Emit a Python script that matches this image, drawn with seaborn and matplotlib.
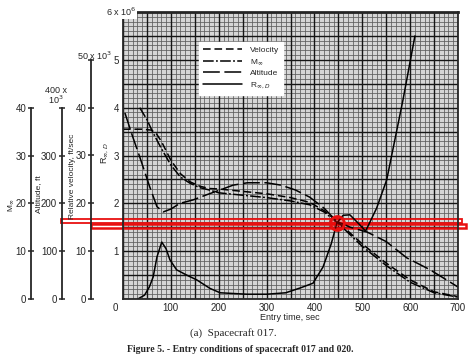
import numpy as np
import pandas as pd
import matplotlib
matplotlib.use("Agg")
import matplotlib.pyplot as plt
import seaborn as sns
from matplotlib.patches import Rectangle

# entry conditions of spacecraft 017
vel_time = [0, 20, 40, 60, 70, 80, 90, 100, 120, 140, 160, 180, 200, 250, 300, 350, 390, 420,
            450, 500, 550, 600, 650, 700]
vel_fps = [35500, 35500, 35500, 35300, 34500, 33000, 31000, 29000, 26200, 24500, 23600, 23100,
           23000, 22500, 22000, 21200, 20200, 18500, 16000, 11500, 7500, 4000, 1500, 500]

mach_time = [35, 50, 63, 80, 100, 120, 140, 160, 180, 200, 250, 300, 350, 390, 420, 450, 500,
             550, 600, 650, 700]
mach = [40.0, 37.5, 34.7, 31.5, 28.0, 25.5, 24.2, 23.3, 22.8, 22.2, 21.7, 21.2, 20.5, 19.7,
        18.2, 15.8, 11.0, 7.0, 3.5, 1.3, 0.4]

alt_time = [4, 20, 35, 56, 71, 84, 100, 119, 146, 175, 203, 230, 260, 300, 330, 360, 390, 420,
            447, 475, 510, 550, 593, 640, 676, 700]
alt_ft = [389000, 340000, 297000, 234000, 193000, 182000, 188000, 200000, 207000, 218000,
          228000, 238000, 243000, 243000, 238000, 228000, 213000, 190000, 162000, 150000,
          140000, 120000, 86000, 62000, 40000, 25000]

re_time = [31, 45, 55, 63, 71, 81, 90, 98, 112, 133, 154, 182, 203, 259, 300, 340, 370, 397,
           418, 435, 447, 460, 474, 490, 507, 530, 551, 585, 610]
re_d = [0.0, 0.08, 0.25, 0.46, 0.88, 1.19, 1.05, 0.82, 0.61, 0.5, 0.4, 0.22, 0.13, 0.1, 0.1,
        0.13, 0.23, 0.33, 0.67, 1.15, 1.59, 1.75, 1.76, 1.6, 1.42, 1.9, 2.49, 4.16, 5.5]  # x 10^6

sns.set_style("ticks")
plt.rcParams['font.family'] = ['Liberation Sans', 'DejaVu Sans']
plt.rcParams['font.size'] = 6.5

fig = plt.figure(figsize=(4.74, 3.61), dpi=100)
B, H = 1 - 299 / 361, 287 / 361
ax = fig.add_axes([123 / 474, B, 335 / 474, H])
ax.set_facecolor("#d6d6d6")

# graph paper: fine lines every 10 s / 0.1, heavy ones every 50 s / 0.5
fine_x = np.arange(0, 701, 10)
fine_y = np.arange(0, 6.01, 0.1)
ax.vlines(fine_x, 0, 6, color="#5c5c5c", linewidth=0.55, zorder=0.6)
ax.hlines(fine_y, 0, 700, color="#5c5c5c", linewidth=0.55, zorder=0.6)
ax.vlines(fine_x[::5], 0, 6, color="#151515", linewidth=1.0, zorder=0.7)
ax.hlines(fine_y[::5], 0, 700, color="#151515", linewidth=1.0, zorder=0.7)

# everything is drawn on the R scale (0-6): M/10, alt/1e5, vel/1e4
vel = pd.DataFrame({"t": vel_time, "y": np.array(vel_fps) / 1e4})
mac = pd.DataFrame({"t": mach_time, "y": np.array(mach) / 10})
alt = pd.DataFrame({"t": alt_time, "y": np.array(alt_ft) / 1e5})
rey = pd.DataFrame({"t": re_time, "y": re_d})

kw = dict(color="black", linewidth=1.1, ax=ax)
sns.lineplot(data=vel, x="t", y="y", label="Velocity", **kw)
sns.lineplot(data=mac, x="t", y="y", label=r"M$_\infty$", **kw)
sns.lineplot(data=alt, x="t", y="y", label="Altitude", **kw)
sns.lineplot(data=rey, x="t", y="y", label=r"R$_{\infty,D}$", **kw)
lines = ax.get_lines()
lines[0].set_dashes((5, 2.5))
lines[1].set_dashes((7, 1.5, 1.2, 1.5))
lines[2].set_dashes((11, 3))

ax.set_xlim(0, 700)
ax.set_ylim(0, 6)
ax.set_xticks(np.arange(100, 701, 100))
ax.set_yticks([1, 2, 3, 4, 5])
ax.tick_params(which="both", length=0, pad=3, labelsize=7)
for s in ax.spines.values():
    s.set_linewidth(1.3)
ax.spines["top"].set_linewidth(2)
ax.set_xlabel("")
ax.set_ylabel("")

# legend handles take the dash patterns of the lines
leg = ax.legend(handles=lines[:4], loc="upper left", bbox_to_anchor=(0.215, 0.91), frameon=True,
                fancybox=False, edgecolor="white", framealpha=1, fontsize=6, handlelength=4.6,
                labelspacing=0.35, borderpad=0.5, handletextpad=1.0)

ax.text(-0.015, -0.015, "0", transform=ax.transAxes, ha="right", va="top", fontsize=7)
ax.text(-0.005, 1.0, r"6 x 10$^6$", transform=ax.transAxes, ha="center", va="center",
        fontsize=6.5, bbox=dict(facecolor="white", edgecolor="none", pad=0.5))
fig.text(105 / 474, 1 - 153 / 361, r"R$_{\infty,D}$", rotation=90, ha="center", va="center", fontsize=6.5)

# extra scales on the left
def side_axis(xpix, top, scale, labels, name, ypix):
    a = fig.add_axes([xpix / 474, B, 0.0001, H])
    a.set_ylim(0, 6 * scale)
    for k in ["top", "right", "bottom"]:
        a.spines[k].set_visible(False)
    a.spines["left"].set_bounds(0, top)
    a.spines["left"].set_linewidth(1.3)
    a.patch.set_visible(False)
    a.set_xticks([])
    a.set_yticks(np.linspace(0, top, len(labels)))
    a.set_yticklabels(labels)
    a.tick_params(axis="y", direction="inout", length=4, width=1.1, pad=1.5, labelsize=7)
    fig.text(ypix[0] / 474, 1 - ypix[1] / 361, name, rotation=90, ha="center", va="center", fontsize=6)
    return a

side_axis(31, 40, 10, ["0", "10", "20", "30", "40"], r"M$_\infty$", (11, 205))
side_axis(62, 400000, 100000, ["0", "100", "200", "300", ""], "Altitude, ft", (39, 194))
side_axis(91, 50000, 10000, ["0", "10", "20", "30", "40", ""], "Relative velocity, ft/sec", (72, 176))
fig.text(56 / 474, 1 - 96 / 361, "400 x\n" + r"10$^3$", ha="center", va="center", fontsize=6.5, linespacing=0.9)
fig.text(95 / 474, 1 - 56 / 361, r"50 x 10$^3$", ha="center", va="center", fontsize=6.5)

# red highlight drawn over the scan
ax.add_patch(Rectangle((-129, 1.59), 837, 0.085, fill=False, edgecolor="#e81010", linewidth=1.3, clip_on=False))
ax.add_patch(Rectangle((-67, 1.485), 783, 0.085, fill=False, edgecolor="#e81010", linewidth=1.8, clip_on=False))
ax.plot([447], [1.59], marker="o", markersize=10, markerfacecolor=(1, 0, 0, 0.35),
        markeredgecolor="#e81010", markeredgewidth=2, clip_on=False)

fig.text(290 / 474, 1 - 318 / 361, "Entry time, sec", ha="center", va="center", fontsize=6.5)
fig.text(233 / 474, 1 - 333 / 361, "(a)  Spacecraft 017.", ha="center", va="center",
         fontsize=8, family="Liberation Serif")
fig.text(127 / 474, 1 - 349 / 361, "Figure 5. - Entry conditions of spacecraft 017 and 020.",
         ha="left", va="center", fontsize=7, family="Liberation Serif", weight="bold")

fig.savefig("out.png", dpi=100)
